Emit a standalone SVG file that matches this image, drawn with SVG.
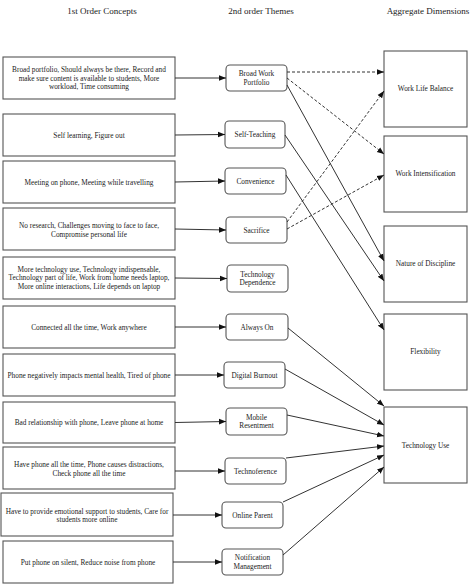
<svg xmlns="http://www.w3.org/2000/svg" width="474" height="584" viewBox="0 0 474 584">
<style>
text{font-family:"Liberation Serif","Times New Roman",serif;fill:#222;text-anchor:middle;font-size:7.3px}
.h{font-size:9px}
.b{fill:#fff;stroke:#555;stroke-width:1.1}
.c{stroke:#333;stroke-width:1;fill:none;marker-end:url(#ah)}
.d{stroke-dasharray:3,2}
</style>
<defs>
<marker id="ah" viewBox="0 0 10 10" refX="10" refY="5" markerWidth="7" markerHeight="7" markerUnits="userSpaceOnUse" orient="auto">
<path d="M0,1 L10,5 L0,9 z" fill="#111"/>
</marker>
</defs>
<rect width="474" height="584" fill="#fff"/>
<g id="headers">
<text class="h" x="102" y="14">1st Order Concepts</text>
<text class="h" x="261" y="14">2nd order Themes</text>
<text class="h" x="428" y="14">Aggregate Dimensions</text>
</g>
<g id="c1"><rect class="b" x="3" y="57" width="172" height="42"/><text x="89" y="72">Broad portfolio, Should always be there, Record and</text><text x="89" y="80.5">make sure content is available to students, More</text><text x="89" y="89">workload, Time consuming</text></g>
<g id="c2"><rect class="b" x="3" y="114" width="172" height="42"/><text x="89" y="137.5">Self learning, Figure out</text></g>
<g id="c3"><rect class="b" x="3" y="161" width="172" height="42"/><text x="89" y="184.5">Meeting on phone, Meeting while travelling</text></g>
<g id="c4"><rect class="b" x="3" y="208" width="172" height="42"/><text x="89" y="228">No research, Challenges moving to face to face,</text><text x="89" y="236.5">Compromise personal life</text></g>
<g id="c5"><rect class="b" x="3" y="257" width="172" height="42"/><text x="89" y="271.5">More technology use, Technology indispensable,</text><text x="89" y="280">Technology part of life, Work from home needs laptop,</text><text x="89" y="288.5">More online interactions, Life depends on laptop</text></g>
<g id="c6"><rect class="b" x="3" y="306" width="172" height="42"/><text x="89" y="329.5">Connected all the time, Work anywhere</text></g>
<g id="c7"><rect class="b" x="3" y="354" width="172" height="42"/><text x="89" y="377.5">Phone negatively impacts mental health, Tired of phone</text></g>
<g id="c8"><rect class="b" x="3" y="402" width="172" height="41"/><text x="89" y="424.5">Bad relationship with phone, Leave phone at home</text></g>
<g id="c9"><rect class="b" x="3" y="447" width="172" height="42"/><text x="89" y="467">Have phone all the time, Phone causes distractions,</text><text x="89" y="475.5">Check phone all the time</text></g>
<g id="c10"><rect class="b" x="1" y="493" width="172" height="43"/><text x="87" y="513.5">Have to provide emotional support to students, Care for</text><text x="87" y="522">students more online</text></g>
<g id="c11"><rect class="b" x="3" y="541" width="170" height="42"/><text x="88" y="564.5">Put phone on silent, Reduce noise from phone</text></g>

<g id="t1"><rect class="b" x="226" y="65" width="61" height="26" rx="4"/><text x="256.5" y="76">Broad Work</text><text x="256.5" y="84.5">Portfolio</text></g>
<g id="t2"><rect class="b" x="225" y="121" width="60" height="27" rx="4"/><text x="255" y="137">Self-Teaching</text></g>
<g id="t3"><rect class="b" x="225" y="168" width="61" height="26" rx="4"/><text x="255.5" y="183.5">Convenience</text></g>
<g id="t4"><rect class="b" x="226" y="217" width="61" height="26" rx="4"/><text x="256.5" y="232.5">Sacrifice</text></g>
<g id="t5"><rect class="b" x="227" y="265" width="61" height="27" rx="4"/><text x="257.5" y="276.5">Technology</text><text x="257.5" y="285">Dependence</text></g>
<g id="t6"><rect class="b" x="226" y="314" width="62" height="26" rx="4"/><text x="257" y="329.5">Always On</text></g>
<g id="t7"><rect class="b" x="224" y="362" width="61" height="26" rx="4"/><text x="254.5" y="377.5">Digital Burnout</text></g>
<g id="t8"><rect class="b" x="226" y="408" width="61" height="27" rx="4"/><text x="256.5" y="419.5">Mobile</text><text x="256.5" y="428">Resentment</text></g>
<g id="t9"><rect class="b" x="225" y="458" width="61" height="26" rx="4"/><text x="255.5" y="473.5">Technoference</text></g>
<g id="t10"><rect class="b" x="222" y="502" width="61" height="26" rx="4"/><text x="252.5" y="517.5">Online Parent</text></g>
<g id="t11"><rect class="b" x="222" y="549" width="61" height="26" rx="4"/><text x="252.5" y="560">Notification</text><text x="252.5" y="568.5">Management</text></g>

<g id="d1"><rect class="b" x="384" y="51" width="83" height="76"/><text x="425.5" y="91">Work Life Balance</text></g>
<g id="d2"><rect class="b" x="384" y="136" width="83" height="76"/><text x="425.5" y="176">Work Intensification</text></g>
<g id="d3"><rect class="b" x="384" y="226" width="83" height="76"/><text x="425.5" y="266">Nature of Discipline</text></g>
<g id="d4"><rect class="b" x="384" y="314" width="83" height="76"/><text x="425.5" y="354">Flexibility</text></g>
<g id="d5"><rect class="b" x="384" y="407" width="83" height="76"/><text x="425.5" y="448">Technology Use</text></g>

<g id="connectors">
<line class="c" x1="175" y1="78" x2="226" y2="78"/>
<line class="c" x1="175" y1="135" x2="225" y2="134.5"/>
<line class="c" x1="175" y1="182" x2="225" y2="181"/>
<line class="c" x1="175" y1="229" x2="226" y2="230"/>
<line class="c" x1="175" y1="278" x2="227" y2="278.5"/>
<line class="c" x1="175" y1="327" x2="226" y2="327"/>
<line class="c" x1="175" y1="375" x2="224" y2="375"/>
<line class="c" x1="175" y1="422.5" x2="226" y2="421.5"/>
<line class="c" x1="175" y1="471" x2="225" y2="471"/>
<line class="c" x1="173" y1="515" x2="222" y2="515"/>
<line class="c" x1="173" y1="562" x2="222" y2="562"/>

<line class="c d" x1="287" y1="72" x2="384" y2="72"/>
<line class="c d" x1="287" y1="78" x2="384" y2="154"/>
<line class="c" x1="287" y1="85" x2="384" y2="261"/>
<line class="c" x1="285" y1="135" x2="384" y2="281"/>
<line class="c" x1="286" y1="175" x2="384" y2="330"/>
<line class="c d" x1="287" y1="222" x2="384" y2="91"/>
<line class="c d" x1="287" y1="229" x2="384" y2="175"/>
<line class="c" x1="288" y1="328" x2="384" y2="406"/>
<line class="c" x1="285" y1="369" x2="384" y2="425"/>
<line class="c" x1="287" y1="415" x2="384" y2="436"/>
<line class="c" x1="286" y1="458" x2="384" y2="446"/>
<line class="c" x1="283" y1="502" x2="384" y2="455"/>
<line class="c" x1="283" y1="555" x2="384" y2="467"/>
</g>
</svg>
